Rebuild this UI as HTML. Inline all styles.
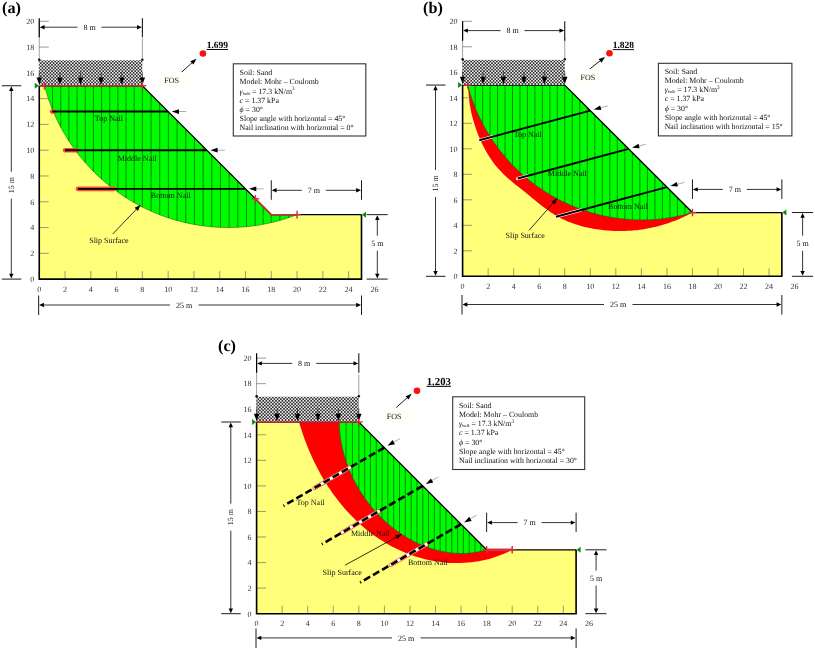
<!DOCTYPE html>
<html lang="en"><head><meta charset="utf-8"><title>Slope stability with soil nails</title><style>html,body{margin:0;padding:0;background:#fff}body{width:815px;height:650px;overflow:hidden}svg{display:block}</style></head><body>
<svg width="815" height="650" viewBox="0 0 815 650" text-rendering="geometricPrecision" font-family='"Liberation Serif", serif'><defs><pattern id="hatch" width="3.2" height="3.2" patternUnits="userSpaceOnUse"><rect width="3.2" height="3.2" fill="#f2f2f2"/><rect x="0" y="0" width="1.6" height="1.6" fill="#2a2a2a"/><rect x="1.6" y="1.6" width="1.6" height="1.6" fill="#2a2a2a"/></pattern></defs><rect width="815" height="650" fill="#fff"/><polygon points="39.25,279.1 39.25,85.75 142.37,85.75 271.27,214.65 361.5,214.65 361.5,279.1" fill="#ffff7a"/>
<polygon points="44.41,85.75 48.62,99.61 52.83,110.66 57.04,120.03 61.25,128.24 65.46,135.59 69.67,142.26 73.88,148.37 78.09,154.01 82.3,159.24 86.51,164.12 90.72,168.68 94.93,172.95 99.15,176.97 103.36,180.75 107.57,184.32 111.78,187.68 115.99,190.85 120.2,193.84 124.41,196.67 128.62,199.34 132.83,201.86 137.04,204.23 141.25,206.46 145.46,208.57 149.67,210.54 153.89,212.39 158.1,214.12 162.31,215.74 166.52,217.24 170.73,218.63 174.94,219.91 179.15,221.09 183.36,222.16 187.57,223.14 191.78,224.01 195.99,224.78 200.2,225.46 204.41,226.04 208.62,226.52 212.84,226.91 217.05,227.21 221.26,227.41 225.47,227.52 229.68,227.53 233.89,227.46 238.1,227.28 242.31,227.02 246.52,226.66 250.73,226.21 254.94,225.66 259.15,225.01 263.36,224.27 267.57,223.43 271.79,222.49 276,221.44 280.21,220.3 284.42,219.05 288.63,217.69 292.84,216.23 297.05,214.65 271.27,214.65 142.37,85.75" fill="#00fc00" stroke="#0a5a0a" stroke-width="0.5"/>
<line x1="52.57" y1="85.75" x2="52.57" y2="109.98" stroke="#064a06" stroke-width="0.65" />
<line x1="60.73" y1="85.75" x2="60.73" y2="127.24" stroke="#064a06" stroke-width="0.65" />
<line x1="68.9" y1="85.75" x2="68.9" y2="141.04" stroke="#064a06" stroke-width="0.65" />
<line x1="77.06" y1="85.75" x2="77.06" y2="152.63" stroke="#064a06" stroke-width="0.65" />
<line x1="85.22" y1="85.75" x2="85.22" y2="162.62" stroke="#064a06" stroke-width="0.65" />
<line x1="93.39" y1="85.75" x2="93.39" y2="171.38" stroke="#064a06" stroke-width="0.65" />
<line x1="101.55" y1="85.75" x2="101.55" y2="179.13" stroke="#064a06" stroke-width="0.65" />
<line x1="109.72" y1="85.75" x2="109.72" y2="186.03" stroke="#064a06" stroke-width="0.65" />
<line x1="117.88" y1="85.75" x2="117.88" y2="192.19" stroke="#064a06" stroke-width="0.65" />
<line x1="126.04" y1="85.75" x2="126.04" y2="197.71" stroke="#064a06" stroke-width="0.65" />
<line x1="134.21" y1="85.75" x2="134.21" y2="202.63" stroke="#064a06" stroke-width="0.65" />
<line x1="142.37" y1="85.75" x2="142.37" y2="207.02" stroke="#064a06" stroke-width="0.65" />
<line x1="151.05" y1="94.43" x2="151.05" y2="211.14" stroke="#064a06" stroke-width="0.65" />
<line x1="159.72" y1="103.1" x2="159.72" y2="214.74" stroke="#064a06" stroke-width="0.65" />
<line x1="168.4" y1="111.78" x2="168.4" y2="217.86" stroke="#064a06" stroke-width="0.65" />
<line x1="177.07" y1="120.45" x2="177.07" y2="220.51" stroke="#064a06" stroke-width="0.65" />
<line x1="185.75" y1="129.13" x2="185.75" y2="222.72" stroke="#064a06" stroke-width="0.65" />
<line x1="194.43" y1="137.81" x2="194.43" y2="224.5" stroke="#064a06" stroke-width="0.65" />
<line x1="203.1" y1="146.48" x2="203.1" y2="225.86" stroke="#064a06" stroke-width="0.65" />
<line x1="211.78" y1="155.16" x2="211.78" y2="226.82" stroke="#064a06" stroke-width="0.65" />
<line x1="220.45" y1="163.83" x2="220.45" y2="227.37" stroke="#064a06" stroke-width="0.65" />
<line x1="229.13" y1="172.51" x2="229.13" y2="227.53" stroke="#064a06" stroke-width="0.65" />
<line x1="237.81" y1="181.19" x2="237.81" y2="227.3" stroke="#064a06" stroke-width="0.65" />
<line x1="246.48" y1="189.86" x2="246.48" y2="226.66" stroke="#064a06" stroke-width="0.65" />
<line x1="255.16" y1="198.54" x2="255.16" y2="225.62" stroke="#064a06" stroke-width="0.65" />
<line x1="263.21" y1="206.59" x2="263.21" y2="224.29" stroke="#064a06" stroke-width="0.65" />
<line x1="271.27" y1="214.65" x2="271.27" y2="222.6" stroke="#064a06" stroke-width="0.65" />
<line x1="279.86" y1="214.65" x2="279.86" y2="220.39" stroke="#064a06" stroke-width="0.65" />
<line x1="288.46" y1="214.65" x2="288.46" y2="217.75" stroke="#064a06" stroke-width="0.65" />
<line x1="39.25" y1="253.32" x2="48.75" y2="253.32" stroke="#707070" stroke-width="0.7" />
<line x1="39.25" y1="227.54" x2="48.75" y2="227.54" stroke="#707070" stroke-width="0.7" />
<line x1="39.25" y1="201.76" x2="48.75" y2="201.76" stroke="#707070" stroke-width="0.7" />
<line x1="39.25" y1="175.98" x2="48.75" y2="175.98" stroke="#707070" stroke-width="0.7" />
<line x1="39.25" y1="150.2" x2="48.75" y2="150.2" stroke="#707070" stroke-width="0.7" />
<line x1="39.25" y1="124.42" x2="48.75" y2="124.42" stroke="#707070" stroke-width="0.7" />
<line x1="39.25" y1="98.64" x2="48.75" y2="98.64" stroke="#707070" stroke-width="0.7" />
<line x1="39.25" y1="72.86" x2="48.75" y2="72.86" stroke="#707070" stroke-width="0.7" />
<line x1="39.25" y1="47.08" x2="48.75" y2="47.08" stroke="#707070" stroke-width="0.7" />
<line x1="39.25" y1="21.3" x2="48.75" y2="21.3" stroke="#707070" stroke-width="0.7" />
<line x1="39.25" y1="279.1" x2="39.25" y2="271.1" stroke="#707070" stroke-width="0.7" />
<line x1="65.03" y1="279.1" x2="65.03" y2="271.1" stroke="#707070" stroke-width="0.7" />
<line x1="90.81" y1="279.1" x2="90.81" y2="271.1" stroke="#707070" stroke-width="0.7" />
<line x1="116.59" y1="279.1" x2="116.59" y2="271.1" stroke="#707070" stroke-width="0.7" />
<line x1="142.37" y1="279.1" x2="142.37" y2="271.1" stroke="#707070" stroke-width="0.7" />
<line x1="168.15" y1="279.1" x2="168.15" y2="271.1" stroke="#707070" stroke-width="0.7" />
<line x1="193.93" y1="279.1" x2="193.93" y2="271.1" stroke="#707070" stroke-width="0.7" />
<line x1="219.71" y1="279.1" x2="219.71" y2="271.1" stroke="#707070" stroke-width="0.7" />
<line x1="245.49" y1="279.1" x2="245.49" y2="271.1" stroke="#707070" stroke-width="0.7" />
<line x1="271.27" y1="279.1" x2="271.27" y2="271.1" stroke="#707070" stroke-width="0.7" />
<line x1="297.05" y1="279.1" x2="297.05" y2="271.1" stroke="#707070" stroke-width="0.7" />
<line x1="322.83" y1="279.1" x2="322.83" y2="271.1" stroke="#707070" stroke-width="0.7" />
<line x1="348.61" y1="279.1" x2="348.61" y2="271.1" stroke="#707070" stroke-width="0.7" />
<line x1="39.25" y1="85.75" x2="39.25" y2="21.3" stroke="#444" stroke-width="0.5" />
<polyline points="39.25,85.75 142.37,85.75 271.27,214.65 361.5,214.65" fill="none" stroke="#000" stroke-width="1.25" stroke-linejoin="miter"/>
<polyline points="361.5,214.65 361.5,279.1 39.25,279.1 39.25,85.75" fill="none" stroke="#000" stroke-width="1.6" stroke-linejoin="miter"/>
<rect x="39.25" y="60.27" width="103.12" height="25.48" fill="url(#hatch)"/>
<circle cx="39.25" cy="59.67" r="1.2" fill="#000"/>
<circle cx="142.37" cy="59.67" r="1.2" fill="#000"/>
<line x1="142.37" y1="59.97" x2="142.37" y2="37.97" stroke="#444" stroke-width="0.5" />
<line x1="39.25" y1="72.25" x2="39.25" y2="80.75" stroke="#222" stroke-width="0.7" />
<polygon points="39.25,84.75 36.55,77.55 41.95,77.55" fill="#000"/>
<line x1="59.87" y1="72.25" x2="59.87" y2="80.75" stroke="#222" stroke-width="0.7" />
<polygon points="59.87,84.75 57.17,77.55 62.57,77.55" fill="#000"/>
<line x1="80.5" y1="72.25" x2="80.5" y2="80.75" stroke="#222" stroke-width="0.7" />
<polygon points="80.5,84.75 77.8,77.55 83.2,77.55" fill="#000"/>
<line x1="101.12" y1="72.25" x2="101.12" y2="80.75" stroke="#222" stroke-width="0.7" />
<polygon points="101.12,84.75 98.42,77.55 103.82,77.55" fill="#000"/>
<line x1="121.75" y1="72.25" x2="121.75" y2="80.75" stroke="#222" stroke-width="0.7" />
<polygon points="121.75,84.75 119.05,77.55 124.45,77.55" fill="#000"/>
<line x1="142.37" y1="72.25" x2="142.37" y2="80.75" stroke="#222" stroke-width="0.7" />
<polygon points="142.37,84.75 139.67,77.55 145.07,77.55" fill="#000"/>
<polyline points="44.41,85.75 142.37,85.75" fill="none" stroke="#cc2c44" stroke-width="1.5"/>
<circle cx="93.39" cy="85.75" r="0.9" fill="#cc2c44"/>
<polyline points="255.42,198.8 271.27,214.65 297.05,214.65" fill="none" stroke="#cc2c44" stroke-width="1.5"/>
<circle cx="263.34" cy="206.72" r="0.9" fill="#cc2c44"/>
<circle cx="284.16" cy="214.65" r="0.9" fill="#cc2c44"/>
<line x1="40.61" y1="85.75" x2="48.21" y2="85.75" stroke="#cc2c44" stroke-width="1.4" />
<line x1="44.41" y1="81.95" x2="44.41" y2="89.55" stroke="#cc2c44" stroke-width="1.4" />
<line x1="138.57" y1="85.75" x2="146.17" y2="85.75" stroke="#cc2c44" stroke-width="1.4" />
<line x1="142.37" y1="81.95" x2="142.37" y2="89.55" stroke="#cc2c44" stroke-width="1.4" />
<line x1="251.62" y1="198.8" x2="259.22" y2="198.8" stroke="#cc2c44" stroke-width="1.4" />
<line x1="255.42" y1="195" x2="255.42" y2="202.6" stroke="#cc2c44" stroke-width="1.4" />
<line x1="293.25" y1="214.65" x2="300.85" y2="214.65" stroke="#cc2c44" stroke-width="1.4" />
<line x1="297.05" y1="210.85" x2="297.05" y2="218.45" stroke="#cc2c44" stroke-width="1.4" />
<polygon points="38.75,85.75 34.75,82.75 34.75,88.75" fill="#0a8a0a"/>
<polygon points="362,214.65 366,211.65 366,217.65" fill="#0a8a0a"/>
<line x1="54.07" y1="111.53" x2="52.14" y2="111.53" stroke="#ff4a38" stroke-width="4.6" stroke-linecap="round"/>
<line x1="168.15" y1="111.53" x2="52.14" y2="111.53" stroke="#000" stroke-width="1.9" />
<line x1="176.75" y1="111.53" x2="186.25" y2="111.53" stroke="#777" stroke-width="0.6" />
<polygon points="171.75,111.53 178.95,109.13 178.95,113.93" fill="#000"/>
<line x1="76.63" y1="150.2" x2="65.03" y2="150.2" stroke="#ff4a38" stroke-width="4.6" stroke-linecap="round"/>
<line x1="206.82" y1="150.2" x2="65.03" y2="150.2" stroke="#000" stroke-width="1.9" />
<line x1="215.42" y1="150.2" x2="224.92" y2="150.2" stroke="#777" stroke-width="0.6" />
<polygon points="210.42,150.2 217.62,147.8 217.62,152.6" fill="#000"/>
<line x1="114.01" y1="188.87" x2="77.92" y2="188.87" stroke="#ff4a38" stroke-width="4.6" stroke-linecap="round"/>
<line x1="245.49" y1="188.87" x2="77.92" y2="188.87" stroke="#000" stroke-width="1.9" />
<line x1="254.09" y1="188.87" x2="263.59" y2="188.87" stroke="#777" stroke-width="0.6" />
<polygon points="249.09,188.87 256.29,186.47 256.29,191.27" fill="#000"/>
<text x="108.86" y="120.55" font-size="8" text-anchor="middle" font-weight="normal" font-style="normal" fill="#111" >Top Nail</text>
<text x="137.21" y="160.51" font-size="8" text-anchor="middle" font-weight="normal" font-style="normal" fill="#111" >Middle Nail</text>
<text x="170.73" y="197.89" font-size="8" text-anchor="middle" font-weight="normal" font-style="normal" fill="#111" >Bottom Nail</text>
<text x="108.86" y="243.27" font-size="8" text-anchor="middle" font-weight="normal" font-style="normal" fill="#111" >Slip Surface</text>
<line x1="112.72" y1="233.99" x2="140.44" y2="204.98" stroke="#000" stroke-width="0.8" />
<polygon points="140.44,204.98 137.95,210.91 134.63,207.73" fill="#000"/>
<text x="34.25" y="281.9" font-size="8" text-anchor="end" font-weight="normal" font-style="normal" fill="#333" >0</text>
<text x="34.25" y="256.12" font-size="8" text-anchor="end" font-weight="normal" font-style="normal" fill="#333" >2</text>
<text x="34.25" y="230.34" font-size="8" text-anchor="end" font-weight="normal" font-style="normal" fill="#333" >4</text>
<text x="34.25" y="204.56" font-size="8" text-anchor="end" font-weight="normal" font-style="normal" fill="#333" >6</text>
<text x="34.25" y="178.78" font-size="8" text-anchor="end" font-weight="normal" font-style="normal" fill="#333" >8</text>
<text x="34.25" y="153" font-size="8" text-anchor="end" font-weight="normal" font-style="normal" fill="#333" >10</text>
<text x="34.25" y="127.22" font-size="8" text-anchor="end" font-weight="normal" font-style="normal" fill="#333" >12</text>
<text x="34.25" y="101.44" font-size="8" text-anchor="end" font-weight="normal" font-style="normal" fill="#333" >14</text>
<text x="34.25" y="75.66" font-size="8" text-anchor="end" font-weight="normal" font-style="normal" fill="#333" >16</text>
<text x="34.25" y="49.88" font-size="8" text-anchor="end" font-weight="normal" font-style="normal" fill="#333" >18</text>
<text x="34.25" y="24.1" font-size="8" text-anchor="end" font-weight="normal" font-style="normal" fill="#333" >20</text>
<text x="39.25" y="291.7" font-size="8" text-anchor="middle" font-weight="normal" font-style="normal" fill="#333" >0</text>
<text x="65.03" y="291.7" font-size="8" text-anchor="middle" font-weight="normal" font-style="normal" fill="#333" >2</text>
<text x="90.81" y="291.7" font-size="8" text-anchor="middle" font-weight="normal" font-style="normal" fill="#333" >4</text>
<text x="116.59" y="291.7" font-size="8" text-anchor="middle" font-weight="normal" font-style="normal" fill="#333" >6</text>
<text x="142.37" y="291.7" font-size="8" text-anchor="middle" font-weight="normal" font-style="normal" fill="#333" >8</text>
<text x="168.15" y="291.7" font-size="8" text-anchor="middle" font-weight="normal" font-style="normal" fill="#333" >10</text>
<text x="193.93" y="291.7" font-size="8" text-anchor="middle" font-weight="normal" font-style="normal" fill="#333" >12</text>
<text x="219.71" y="291.7" font-size="8" text-anchor="middle" font-weight="normal" font-style="normal" fill="#333" >14</text>
<text x="245.49" y="291.7" font-size="8" text-anchor="middle" font-weight="normal" font-style="normal" fill="#333" >16</text>
<text x="271.27" y="291.7" font-size="8" text-anchor="middle" font-weight="normal" font-style="normal" fill="#333" >18</text>
<text x="297.05" y="291.7" font-size="8" text-anchor="middle" font-weight="normal" font-style="normal" fill="#333" >20</text>
<text x="322.83" y="291.7" font-size="8" text-anchor="middle" font-weight="normal" font-style="normal" fill="#333" >22</text>
<text x="348.61" y="291.7" font-size="8" text-anchor="middle" font-weight="normal" font-style="normal" fill="#333" >24</text>
<text x="374.39" y="291.7" font-size="8" text-anchor="middle" font-weight="normal" font-style="normal" fill="#333" >26</text>
<line x1="39.25" y1="18.2" x2="39.25" y2="37.2" stroke="#000" stroke-width="1.2" />
<line x1="142.37" y1="18.2" x2="142.37" y2="37.2" stroke="#000" stroke-width="1.0" />
<line x1="43.25" y1="27.2" x2="77.5" y2="27.2" stroke="#000" stroke-width="0.8" />
<line x1="138.37" y1="27.2" x2="101.5" y2="27.2" stroke="#000" stroke-width="0.8" />
<polygon points="39.75,27.2 44.55,25 44.55,29.4" fill="#000"/>
<polygon points="141.87,27.2 137.07,29.4 137.07,25" fill="#000"/>
<text x="89.5" y="29.8" font-size="8" text-anchor="middle" font-weight="normal" font-style="normal" fill="#111" >8 m</text>
<line x1="271.27" y1="180.3" x2="271.27" y2="199.8" stroke="#000" stroke-width="0.9" />
<line x1="361.5" y1="180.3" x2="361.5" y2="199.8" stroke="#000" stroke-width="0.9" />
<line x1="275.27" y1="190.3" x2="301.9" y2="190.3" stroke="#000" stroke-width="0.8" />
<line x1="357.5" y1="190.3" x2="325.9" y2="190.3" stroke="#000" stroke-width="0.8" />
<polygon points="271.77,190.3 276.57,188.1 276.57,192.5" fill="#000"/>
<polygon points="361,190.3 356.2,192.5 356.2,188.1" fill="#000"/>
<text x="313.9" y="192.9" font-size="8" text-anchor="middle" font-weight="normal" font-style="normal" fill="#111" >7 m</text>
<line x1="38.65" y1="295.5" x2="38.65" y2="315" stroke="#000" stroke-width="0.9" />
<line x1="361.5" y1="295.5" x2="361.5" y2="315" stroke="#000" stroke-width="0.9" />
<line x1="43.25" y1="305" x2="170" y2="305" stroke="#000" stroke-width="0.8" />
<line x1="357.5" y1="305" x2="198.5" y2="305" stroke="#000" stroke-width="0.8" />
<polygon points="39.15,305 43.95,302.8 43.95,307.2" fill="#000"/>
<polygon points="361,305 356.2,307.2 356.2,302.8" fill="#000"/>
<text x="184" y="307.6" font-size="8" text-anchor="middle" font-weight="normal" font-style="normal" fill="#111" >25 m</text>
<line x1="1.8" y1="85.75" x2="21.3" y2="85.75" stroke="#000" stroke-width="0.9" />
<line x1="1.8" y1="279.1" x2="21.3" y2="279.1" stroke="#000" stroke-width="0.9" />
<line x1="11.3" y1="89.75" x2="11.3" y2="171.7" stroke="#000" stroke-width="0.8" />
<line x1="11.3" y1="275.1" x2="11.3" y2="198.7" stroke="#000" stroke-width="0.8" />
<polygon points="11.3,86.25 13.5,91.05 9.1,91.05" fill="#000"/>
<polygon points="11.3,278.6 9.1,273.8 13.5,273.8" fill="#000"/>
<text x="0" y="0" font-size="8" text-anchor="middle" font-weight="normal" font-style="normal" fill="#111" transform="translate(13.9,185.2) rotate(-90)">15 m</text>
<line x1="366.6" y1="214.65" x2="387.7" y2="214.65" stroke="#000" stroke-width="0.9" />
<line x1="366.6" y1="279.1" x2="387.7" y2="279.1" stroke="#000" stroke-width="0.9" />
<line x1="377.3" y1="218.65" x2="377.3" y2="235.7" stroke="#000" stroke-width="0.8" />
<line x1="377.3" y1="275.1" x2="377.3" y2="250.7" stroke="#000" stroke-width="0.8" />
<polygon points="377.3,215.15 379.5,219.95 375.1,219.95" fill="#000"/>
<polygon points="377.3,278.6 375.1,273.8 379.5,273.8" fill="#000"/>
<text x="377.3" y="246.4" font-size="8" text-anchor="middle" font-weight="normal" font-style="normal" fill="#111" >5 m</text>
<circle cx="202.95" cy="53.53" r="3.3" fill="#ff1010"/>
<line x1="181.25" y1="72.53" x2="193.49" y2="61.41" stroke="#000" stroke-width="0.9" />
<polygon points="196.45,58.73 193.41,64.6 190.32,61.19" fill="#000"/>
<rect x="157.65" y="72.12" width="28" height="16" fill="#fffff7"/>
<text x="171.65" y="83.33" font-size="8" text-anchor="middle" font-weight="normal" font-style="normal" fill="#111" >FOS</text>
<text x="206.65" y="48.03" font-size="9.5" text-anchor="start" font-weight="bold" font-style="normal" fill="#000" text-decoration="underline">1.699</text>
<rect x="233.3" y="63.8" width="132.5" height="72.2" fill="#fff" stroke="#333" stroke-width="1.1"/>
<text x="239.6" y="75.1" font-size="7.85" text-anchor="start" font-weight="normal" font-style="normal" fill="#111" >Soil: Sand</text>
<text x="239.6" y="84.33" font-size="7.85" text-anchor="start" font-weight="normal" font-style="normal" fill="#111" >Model: Mohr – Coulomb</text>
<text x="239.6" y="93.56" font-size="7.85" fill="#111"><tspan font-style="italic">γ</tspan><tspan font-size="4.3" dy="1.2" font-style="italic">bulk</tspan><tspan dy="-1.2"> = 17.3 kN/m</tspan><tspan font-size="5.2" dy="-3.4">3</tspan></text>
<text x="239.6" y="102.79" font-size="7.85" fill="#111"><tspan font-style="italic">c</tspan> = 1.37 kPa</text>
<text x="239.6" y="112.02" font-size="7.85" fill="#111"><tspan font-style="italic">ϕ</tspan> = 30°</text>
<text x="239.6" y="121.25" font-size="7.85" text-anchor="start" font-weight="normal" font-style="normal" fill="#111" >Slope angle with horizontal = 45°</text>
<text x="239.6" y="130.48" font-size="7.85" text-anchor="start" font-weight="normal" font-style="normal" fill="#111" >Nail inclination with horizontal = 0°</text>
<text x="2" y="13" font-size="16.2" text-anchor="start" font-weight="bold" font-style="normal" fill="#000" >(a)</text>
<polygon points="462.6,276.3 462.6,85.05 564.76,85.05 692.46,212.55 781.85,212.55 781.85,276.3" fill="#ffff7a"/>
<polygon points="467.71,85.05 469.58,103.62 471.45,113.15 473.33,120.45 475.2,126.57 477.08,131.92 478.97,136.71 480.86,141.07 482.76,145.08 484.68,148.8 486.62,152.27 488.57,155.52 490.54,158.57 492.54,161.44 494.56,164.14 496.61,166.68 498.67,169.08 500.75,171.35 502.84,173.5 504.93,175.53 507.03,177.47 509.11,179.31 511.19,181.08 513.24,182.78 515.27,184.42 517.28,186.01 519.25,187.57 521.18,189.09 523.09,190.6 524.96,192.08 526.79,193.55 528.6,195.01 530.38,196.46 532.13,197.91 533.87,199.34 535.59,200.76 537.3,202.16 539,203.55 540.7,204.91 542.4,206.25 544.11,207.57 545.82,208.85 547.54,210.1 549.27,211.31 551.01,212.48 552.76,213.61 554.52,214.7 556.29,215.75 558.08,216.75 559.88,217.71 561.68,218.63 563.5,219.5 565.32,220.34 567.15,221.13 568.99,221.89 570.84,222.6 572.68,223.28 574.54,223.93 576.39,224.54 578.25,225.12 580.12,225.67 581.98,226.18 583.85,226.67 585.72,227.13 587.59,227.56 589.46,227.96 591.33,228.34 593.2,228.69 595.07,229.01 596.94,229.31 598.81,229.59 600.69,229.84 602.56,230.06 604.43,230.26 606.31,230.44 608.18,230.6 610.05,230.73 611.92,230.84 613.8,230.92 615.67,230.98 617.54,231.02 619.42,231.04 621.29,231.03 623.16,231 625.03,230.94 626.91,230.87 628.78,230.77 630.65,230.64 632.53,230.5 634.4,230.33 636.27,230.14 638.14,229.92 640.02,229.68 641.89,229.42 643.76,229.13 645.64,228.82 647.51,228.48 649.38,228.12 651.26,227.74 653.13,227.33 655,226.9 656.87,226.44 658.75,225.95 660.62,225.45 662.49,224.91 664.37,224.35 666.24,223.76 668.11,223.15 669.98,222.51 671.86,221.84 673.73,221.14 675.6,220.42 677.48,219.67 679.35,218.88 681.22,218.07 683.1,217.23 684.97,216.36 686.84,215.45 688.71,214.52 690.59,213.55 692.46,212.55 564.76,85.05" fill="#ff0000"/>
<polygon points="467.71,85.05 468.65,88.53 469.67,92 470.75,95.44 471.9,98.86 473.12,102.26 474.4,105.63 475.76,108.97 477.17,112.29 478.66,115.58 480.21,118.83 481.82,122.06 483.5,125.25 485.24,128.4 487.04,131.52 488.91,134.61 490.83,137.65 492.82,140.66 494.86,143.63 496.97,146.55 499.13,149.43 501.35,152.27 503.63,155.07 505.96,157.81 508.34,160.51 510.78,163.16 513.27,165.77 515.81,168.32 518.41,170.82 521.05,173.26 523.74,175.66 526.48,178 529.26,180.28 532.09,182.51 534.96,184.68 537.88,186.8 540.84,188.85 543.84,190.85 546.88,192.78 549.95,194.66 553.07,196.47 556.22,198.22 559.4,199.9 562.62,201.52 565.87,203.08 569.14,204.57 572.45,205.99 575.79,207.35 579.15,208.64 582.54,209.87 585.96,211.02 589.39,212.11 592.85,213.12 596.32,214.07 599.82,214.95 603.33,215.76 606.86,216.49 610.4,217.16 613.96,217.75 617.52,218.27 621.1,218.72 624.68,219.1 628.28,219.41 631.87,219.64 635.47,219.8 639.08,219.89 642.68,219.91 646.29,219.85 649.89,219.72 653.49,219.52 657.09,219.25 660.68,218.9 664.26,218.48 667.83,217.99 671.39,217.43 674.94,216.79 678.48,216.09 682,215.31 685.5,214.46 688.99,213.54 692.46,212.55 564.76,85.05" fill="#00fc00" stroke="#0a5a0a" stroke-width="0.5"/>
<line x1="475.17" y1="85.05" x2="475.17" y2="107.53" stroke="#064a06" stroke-width="0.65" />
<line x1="482.64" y1="85.05" x2="482.64" y2="123.61" stroke="#064a06" stroke-width="0.65" />
<line x1="490.1" y1="85.05" x2="490.1" y2="136.5" stroke="#064a06" stroke-width="0.65" />
<line x1="497.57" y1="85.05" x2="497.57" y2="147.35" stroke="#064a06" stroke-width="0.65" />
<line x1="505.04" y1="85.05" x2="505.04" y2="156.73" stroke="#064a06" stroke-width="0.65" />
<line x1="512.5" y1="85.05" x2="512.5" y2="164.96" stroke="#064a06" stroke-width="0.65" />
<line x1="519.97" y1="85.05" x2="519.97" y2="172.26" stroke="#064a06" stroke-width="0.65" />
<line x1="527.43" y1="85.05" x2="527.43" y2="178.78" stroke="#064a06" stroke-width="0.65" />
<line x1="534.9" y1="85.05" x2="534.9" y2="184.63" stroke="#064a06" stroke-width="0.65" />
<line x1="542.36" y1="85.05" x2="542.36" y2="189.87" stroke="#064a06" stroke-width="0.65" />
<line x1="549.83" y1="85.05" x2="549.83" y2="194.58" stroke="#064a06" stroke-width="0.65" />
<line x1="557.29" y1="85.05" x2="557.29" y2="198.79" stroke="#064a06" stroke-width="0.65" />
<line x1="564.76" y1="85.05" x2="564.76" y2="202.55" stroke="#064a06" stroke-width="0.65" />
<line x1="572.27" y1="92.55" x2="572.27" y2="205.92" stroke="#064a06" stroke-width="0.65" />
<line x1="579.78" y1="100.05" x2="579.78" y2="208.87" stroke="#064a06" stroke-width="0.65" />
<line x1="587.3" y1="107.55" x2="587.3" y2="211.44" stroke="#064a06" stroke-width="0.65" />
<line x1="594.81" y1="115.05" x2="594.81" y2="213.66" stroke="#064a06" stroke-width="0.65" />
<line x1="602.32" y1="122.55" x2="602.32" y2="215.52" stroke="#064a06" stroke-width="0.65" />
<line x1="609.83" y1="130.05" x2="609.83" y2="217.05" stroke="#064a06" stroke-width="0.65" />
<line x1="617.34" y1="137.55" x2="617.34" y2="218.25" stroke="#064a06" stroke-width="0.65" />
<line x1="624.85" y1="145.05" x2="624.85" y2="219.12" stroke="#064a06" stroke-width="0.65" />
<line x1="632.37" y1="152.55" x2="632.37" y2="219.66" stroke="#064a06" stroke-width="0.65" />
<line x1="639.88" y1="160.05" x2="639.88" y2="219.9" stroke="#064a06" stroke-width="0.65" />
<line x1="647.39" y1="167.55" x2="647.39" y2="219.81" stroke="#064a06" stroke-width="0.65" />
<line x1="654.9" y1="175.05" x2="654.9" y2="219.41" stroke="#064a06" stroke-width="0.65" />
<line x1="662.41" y1="182.55" x2="662.41" y2="218.7" stroke="#064a06" stroke-width="0.65" />
<line x1="669.92" y1="190.05" x2="669.92" y2="217.66" stroke="#064a06" stroke-width="0.65" />
<line x1="677.44" y1="197.55" x2="677.44" y2="216.29" stroke="#064a06" stroke-width="0.65" />
<line x1="684.95" y1="205.05" x2="684.95" y2="214.59" stroke="#064a06" stroke-width="0.65" />
<line x1="462.6" y1="250.8" x2="472.1" y2="250.8" stroke="#707070" stroke-width="0.7" />
<line x1="462.6" y1="225.3" x2="472.1" y2="225.3" stroke="#707070" stroke-width="0.7" />
<line x1="462.6" y1="199.8" x2="472.1" y2="199.8" stroke="#707070" stroke-width="0.7" />
<line x1="462.6" y1="174.3" x2="472.1" y2="174.3" stroke="#707070" stroke-width="0.7" />
<line x1="462.6" y1="148.8" x2="472.1" y2="148.8" stroke="#707070" stroke-width="0.7" />
<line x1="462.6" y1="123.3" x2="472.1" y2="123.3" stroke="#707070" stroke-width="0.7" />
<line x1="462.6" y1="97.8" x2="472.1" y2="97.8" stroke="#707070" stroke-width="0.7" />
<line x1="462.6" y1="72.3" x2="472.1" y2="72.3" stroke="#707070" stroke-width="0.7" />
<line x1="462.6" y1="46.8" x2="472.1" y2="46.8" stroke="#707070" stroke-width="0.7" />
<line x1="462.6" y1="21.3" x2="472.1" y2="21.3" stroke="#707070" stroke-width="0.7" />
<line x1="462.6" y1="276.3" x2="462.6" y2="268.3" stroke="#707070" stroke-width="0.7" />
<line x1="488.14" y1="276.3" x2="488.14" y2="268.3" stroke="#707070" stroke-width="0.7" />
<line x1="513.68" y1="276.3" x2="513.68" y2="268.3" stroke="#707070" stroke-width="0.7" />
<line x1="539.22" y1="276.3" x2="539.22" y2="268.3" stroke="#707070" stroke-width="0.7" />
<line x1="564.76" y1="276.3" x2="564.76" y2="268.3" stroke="#707070" stroke-width="0.7" />
<line x1="590.3" y1="276.3" x2="590.3" y2="268.3" stroke="#707070" stroke-width="0.7" />
<line x1="615.84" y1="276.3" x2="615.84" y2="268.3" stroke="#707070" stroke-width="0.7" />
<line x1="641.38" y1="276.3" x2="641.38" y2="268.3" stroke="#707070" stroke-width="0.7" />
<line x1="666.92" y1="276.3" x2="666.92" y2="268.3" stroke="#707070" stroke-width="0.7" />
<line x1="692.46" y1="276.3" x2="692.46" y2="268.3" stroke="#707070" stroke-width="0.7" />
<line x1="718" y1="276.3" x2="718" y2="268.3" stroke="#707070" stroke-width="0.7" />
<line x1="743.54" y1="276.3" x2="743.54" y2="268.3" stroke="#707070" stroke-width="0.7" />
<line x1="769.08" y1="276.3" x2="769.08" y2="268.3" stroke="#707070" stroke-width="0.7" />
<line x1="462.6" y1="85.05" x2="462.6" y2="21.3" stroke="#444" stroke-width="0.5" />
<polyline points="462.6,85.05 564.76,85.05 692.46,212.55 781.85,212.55" fill="none" stroke="#000" stroke-width="1.25" stroke-linejoin="miter"/>
<polyline points="781.85,212.55 781.85,276.3 462.6,276.3 462.6,85.05" fill="none" stroke="#000" stroke-width="1.6" stroke-linejoin="miter"/>
<rect x="462.6" y="59.85" width="102.16" height="25.2" fill="url(#hatch)"/>
<circle cx="462.6" cy="59.25" r="1.2" fill="#000"/>
<circle cx="564.76" cy="59.25" r="1.2" fill="#000"/>
<line x1="564.76" y1="59.55" x2="564.76" y2="37.55" stroke="#444" stroke-width="0.5" />
<line x1="462.6" y1="71.55" x2="462.6" y2="80.05" stroke="#222" stroke-width="0.7" />
<polygon points="462.6,84.05 459.9,76.85 465.3,76.85" fill="#000"/>
<line x1="483.03" y1="71.55" x2="483.03" y2="80.05" stroke="#222" stroke-width="0.7" />
<polygon points="483.03,84.05 480.33,76.85 485.73,76.85" fill="#000"/>
<line x1="503.46" y1="71.55" x2="503.46" y2="80.05" stroke="#222" stroke-width="0.7" />
<polygon points="503.46,84.05 500.76,76.85 506.16,76.85" fill="#000"/>
<line x1="523.9" y1="71.55" x2="523.9" y2="80.05" stroke="#222" stroke-width="0.7" />
<polygon points="523.9,84.05 521.2,76.85 526.6,76.85" fill="#000"/>
<line x1="544.33" y1="71.55" x2="544.33" y2="80.05" stroke="#222" stroke-width="0.7" />
<polygon points="544.33,84.05 541.63,76.85 547.03,76.85" fill="#000"/>
<line x1="564.76" y1="71.55" x2="564.76" y2="80.05" stroke="#222" stroke-width="0.7" />
<polygon points="564.76,84.05 562.06,76.85 567.46,76.85" fill="#000"/>
<line x1="463.91" y1="85.05" x2="471.51" y2="85.05" stroke="#cc2c44" stroke-width="1.4" />
<line x1="467.71" y1="81.25" x2="467.71" y2="88.85" stroke="#cc2c44" stroke-width="1.4" />
<line x1="688.66" y1="212.55" x2="696.26" y2="212.55" stroke="#cc2c44" stroke-width="1.4" />
<line x1="692.46" y1="208.75" x2="692.46" y2="216.35" stroke="#cc2c44" stroke-width="1.4" />
<polygon points="462.1,85.05 458.1,82.05 458.1,88.05" fill="#0a8a0a"/>
<polygon points="782.35,212.55 786.35,209.55 786.35,215.55" fill="#0a8a0a"/>
<line x1="492.24" y1="136.78" x2="479.29" y2="140.25" stroke="#ffffff" stroke-width="3.3" stroke-linecap="round"/>
<line x1="590.3" y1="110.55" x2="479.29" y2="140.25" stroke="#000" stroke-width="1.9" />
<line x1="598.61" y1="108.32" x2="607.78" y2="105.87" stroke="#777" stroke-width="0.6" />
<polygon points="593.78,109.62 600.11,105.44 601.35,110.07" fill="#000"/>
<line x1="527.46" y1="175.86" x2="517.6" y2="178.5" stroke="#ffffff" stroke-width="3.3" stroke-linecap="round"/>
<line x1="628.61" y1="148.8" x2="517.6" y2="178.5" stroke="#000" stroke-width="1.9" />
<line x1="636.92" y1="146.57" x2="646.09" y2="144.12" stroke="#777" stroke-width="0.6" />
<polygon points="632.09,147.87 638.42,143.69 639.66,148.32" fill="#000"/>
<line x1="580.58" y1="210.15" x2="555.91" y2="216.75" stroke="#ffffff" stroke-width="3.3" stroke-linecap="round"/>
<line x1="666.92" y1="187.05" x2="555.91" y2="216.75" stroke="#000" stroke-width="1.9" />
<line x1="675.23" y1="184.82" x2="684.4" y2="182.37" stroke="#777" stroke-width="0.6" />
<polygon points="670.4,186.12 676.73,181.94 677.97,186.57" fill="#000"/>
<text x="527.73" y="136.69" font-size="8" text-anchor="middle" font-weight="normal" font-style="normal" fill="#111" >Top Nail</text>
<text x="567.31" y="175.57" font-size="8" text-anchor="middle" font-weight="normal" font-style="normal" fill="#111" >Middle Nail</text>
<text x="627.97" y="209.11" font-size="8" text-anchor="middle" font-weight="normal" font-style="normal" fill="#111" >Bottom Nail</text>
<text x="525.17" y="237.67" font-size="8" text-anchor="middle" font-weight="normal" font-style="normal" fill="#111" >Slip Surface</text>
<line x1="529" y1="230.4" x2="557.1" y2="198.53" stroke="#000" stroke-width="0.8" />
<polygon points="557.1,198.53 554.86,204.55 551.41,201.51" fill="#000"/>
<text x="457.6" y="279.1" font-size="8" text-anchor="end" font-weight="normal" font-style="normal" fill="#333" >0</text>
<text x="457.6" y="253.6" font-size="8" text-anchor="end" font-weight="normal" font-style="normal" fill="#333" >2</text>
<text x="457.6" y="228.1" font-size="8" text-anchor="end" font-weight="normal" font-style="normal" fill="#333" >4</text>
<text x="457.6" y="202.6" font-size="8" text-anchor="end" font-weight="normal" font-style="normal" fill="#333" >6</text>
<text x="457.6" y="177.1" font-size="8" text-anchor="end" font-weight="normal" font-style="normal" fill="#333" >8</text>
<text x="457.6" y="151.6" font-size="8" text-anchor="end" font-weight="normal" font-style="normal" fill="#333" >10</text>
<text x="457.6" y="126.1" font-size="8" text-anchor="end" font-weight="normal" font-style="normal" fill="#333" >12</text>
<text x="457.6" y="100.6" font-size="8" text-anchor="end" font-weight="normal" font-style="normal" fill="#333" >14</text>
<text x="457.6" y="75.1" font-size="8" text-anchor="end" font-weight="normal" font-style="normal" fill="#333" >16</text>
<text x="457.6" y="49.6" font-size="8" text-anchor="end" font-weight="normal" font-style="normal" fill="#333" >18</text>
<text x="457.6" y="24.1" font-size="8" text-anchor="end" font-weight="normal" font-style="normal" fill="#333" >20</text>
<text x="462.6" y="288.9" font-size="8" text-anchor="middle" font-weight="normal" font-style="normal" fill="#333" >0</text>
<text x="488.14" y="288.9" font-size="8" text-anchor="middle" font-weight="normal" font-style="normal" fill="#333" >2</text>
<text x="513.68" y="288.9" font-size="8" text-anchor="middle" font-weight="normal" font-style="normal" fill="#333" >4</text>
<text x="539.22" y="288.9" font-size="8" text-anchor="middle" font-weight="normal" font-style="normal" fill="#333" >6</text>
<text x="564.76" y="288.9" font-size="8" text-anchor="middle" font-weight="normal" font-style="normal" fill="#333" >8</text>
<text x="590.3" y="288.9" font-size="8" text-anchor="middle" font-weight="normal" font-style="normal" fill="#333" >10</text>
<text x="615.84" y="288.9" font-size="8" text-anchor="middle" font-weight="normal" font-style="normal" fill="#333" >12</text>
<text x="641.38" y="288.9" font-size="8" text-anchor="middle" font-weight="normal" font-style="normal" fill="#333" >14</text>
<text x="666.92" y="288.9" font-size="8" text-anchor="middle" font-weight="normal" font-style="normal" fill="#333" >16</text>
<text x="692.46" y="288.9" font-size="8" text-anchor="middle" font-weight="normal" font-style="normal" fill="#333" >18</text>
<text x="718" y="288.9" font-size="8" text-anchor="middle" font-weight="normal" font-style="normal" fill="#333" >20</text>
<text x="743.54" y="288.9" font-size="8" text-anchor="middle" font-weight="normal" font-style="normal" fill="#333" >22</text>
<text x="769.08" y="288.9" font-size="8" text-anchor="middle" font-weight="normal" font-style="normal" fill="#333" >24</text>
<text x="794.62" y="288.9" font-size="8" text-anchor="middle" font-weight="normal" font-style="normal" fill="#333" >26</text>
<line x1="462.6" y1="21.2" x2="462.6" y2="40.8" stroke="#000" stroke-width="1.2" />
<line x1="564.76" y1="21.2" x2="564.76" y2="40.8" stroke="#000" stroke-width="1.0" />
<line x1="466.6" y1="30.6" x2="500.5" y2="30.6" stroke="#000" stroke-width="0.8" />
<line x1="560.76" y1="30.6" x2="524.5" y2="30.6" stroke="#000" stroke-width="0.8" />
<polygon points="463.1,30.6 467.9,28.4 467.9,32.8" fill="#000"/>
<polygon points="564.26,30.6 559.46,32.8 559.46,28.4" fill="#000"/>
<text x="512.5" y="33.2" font-size="8" text-anchor="middle" font-weight="normal" font-style="normal" fill="#111" >8 m</text>
<line x1="692.46" y1="179.4" x2="692.46" y2="198.9" stroke="#000" stroke-width="0.9" />
<line x1="781.85" y1="179.4" x2="781.85" y2="198.9" stroke="#000" stroke-width="0.9" />
<line x1="696.46" y1="189.4" x2="722.8" y2="189.4" stroke="#000" stroke-width="0.8" />
<line x1="777.85" y1="189.4" x2="746.8" y2="189.4" stroke="#000" stroke-width="0.8" />
<polygon points="692.96,189.4 697.76,187.2 697.76,191.6" fill="#000"/>
<polygon points="781.35,189.4 776.55,191.6 776.55,187.2" fill="#000"/>
<text x="734.8" y="192" font-size="8" text-anchor="middle" font-weight="normal" font-style="normal" fill="#111" >7 m</text>
<line x1="462" y1="295" x2="462" y2="314.5" stroke="#000" stroke-width="0.9" />
<line x1="781.85" y1="295" x2="781.85" y2="314.5" stroke="#000" stroke-width="0.9" />
<line x1="466.6" y1="304.5" x2="604" y2="304.5" stroke="#000" stroke-width="0.8" />
<line x1="777.85" y1="304.5" x2="632.5" y2="304.5" stroke="#000" stroke-width="0.8" />
<polygon points="462.5,304.5 467.3,302.3 467.3,306.7" fill="#000"/>
<polygon points="781.35,304.5 776.55,306.7 776.55,302.3" fill="#000"/>
<text x="618" y="307.1" font-size="8" text-anchor="middle" font-weight="normal" font-style="normal" fill="#111" >25 m</text>
<line x1="426" y1="85.05" x2="445.5" y2="85.05" stroke="#000" stroke-width="0.9" />
<line x1="426" y1="276.3" x2="445.5" y2="276.3" stroke="#000" stroke-width="0.9" />
<line x1="435.5" y1="89.05" x2="435.5" y2="170" stroke="#000" stroke-width="0.8" />
<line x1="435.5" y1="272.3" x2="435.5" y2="197" stroke="#000" stroke-width="0.8" />
<polygon points="435.5,85.55 437.7,90.35 433.3,90.35" fill="#000"/>
<polygon points="435.5,275.8 433.3,271 437.7,271" fill="#000"/>
<text x="0" y="0" font-size="8" text-anchor="middle" font-weight="normal" font-style="normal" fill="#111" transform="translate(438.1,183.5) rotate(-90)">15 m</text>
<line x1="791.9" y1="212.55" x2="813" y2="212.55" stroke="#000" stroke-width="0.9" />
<line x1="791.9" y1="276.3" x2="813" y2="276.3" stroke="#000" stroke-width="0.9" />
<line x1="802.6" y1="216.55" x2="802.6" y2="235.7" stroke="#000" stroke-width="0.8" />
<line x1="802.6" y1="272.3" x2="802.6" y2="250.7" stroke="#000" stroke-width="0.8" />
<polygon points="802.6,213.05 804.8,217.85 800.4,217.85" fill="#000"/>
<polygon points="802.6,275.8 800.4,271 804.8,271" fill="#000"/>
<text x="802.6" y="246.4" font-size="8" text-anchor="middle" font-weight="normal" font-style="normal" fill="#111" >5 m</text>
<circle cx="609.46" cy="53.18" r="3.3" fill="#ff1010"/>
<line x1="589.16" y1="69.48" x2="601.82" y2="59.46" stroke="#000" stroke-width="0.9" />
<polygon points="604.96,56.98 601.52,62.63 598.67,59.02" fill="#000"/>
<rect x="573.96" y="68.98" width="28" height="16" fill="#fffff7"/>
<text x="587.96" y="80.18" font-size="8" text-anchor="middle" font-weight="normal" font-style="normal" fill="#111" >FOS</text>
<text x="612.66" y="48.18" font-size="9.5" text-anchor="start" font-weight="bold" font-style="normal" fill="#000" text-decoration="underline">1.828</text>
<rect x="658.4" y="63.3" width="133.5" height="72.6" fill="#fff" stroke="#333" stroke-width="1.1"/>
<text x="664.7" y="73.6" font-size="7.85" text-anchor="start" font-weight="normal" font-style="normal" fill="#111" >Soil: Sand</text>
<text x="664.7" y="82.83" font-size="7.85" text-anchor="start" font-weight="normal" font-style="normal" fill="#111" >Model: Mohr – Coulomb</text>
<text x="664.7" y="92.06" font-size="7.85" fill="#111"><tspan font-style="italic">γ</tspan><tspan font-size="4.3" dy="1.2" font-style="italic">bulk</tspan><tspan dy="-1.2"> = 17.3 kN/m</tspan><tspan font-size="5.2" dy="-3.4">3</tspan></text>
<text x="664.7" y="101.29" font-size="7.85" fill="#111"><tspan font-style="italic">c</tspan> = 1.37 kPa</text>
<text x="664.7" y="110.52" font-size="7.85" fill="#111"><tspan font-style="italic">ϕ</tspan> = 30°</text>
<text x="664.7" y="119.75" font-size="7.85" text-anchor="start" font-weight="normal" font-style="normal" fill="#111" >Slope angle with horizontal = 45°</text>
<text x="664.7" y="128.98" font-size="7.85" text-anchor="start" font-weight="normal" font-style="normal" fill="#111" >Nail inclination with horizontal = 15°</text>
<text x="423" y="13" font-size="16.2" text-anchor="start" font-weight="bold" font-style="normal" fill="#000" >(b)</text>
<polygon points="256.6,613.7 256.6,422 358.84,422 486.64,549.8 576.1,549.8 576.1,613.7" fill="#ffff7a"/>
<polygon points="299.03,422 300.09,425.55 301.19,429.06 302.34,432.54 303.52,435.99 304.75,439.41 306.01,442.79 307.32,446.14 308.67,449.46 310.07,452.76 311.5,456.02 312.98,459.25 314.51,462.44 316.08,465.61 317.69,468.75 319.35,471.86 321.05,474.93 322.8,477.98 324.6,480.99 326.45,483.97 328.34,486.92 330.28,489.83 332.27,492.7 334.31,495.55 336.4,498.35 338.54,501.12 340.73,503.85 342.97,506.53 345.26,509.18 347.6,511.78 349.99,514.35 352.44,516.86 354.93,519.33 357.48,521.75 360.07,524.12 362.72,526.44 365.42,528.7 368.16,530.91 370.96,533.06 373.81,535.16 376.7,537.19 379.64,539.16 382.63,541.07 385.66,542.91 388.74,544.68 391.86,546.39 395.02,548.02 398.23,549.57 401.47,551.06 404.75,552.46 408.07,553.79 411.42,555.03 414.81,556.19 418.22,557.27 421.67,558.26 425.14,559.16 428.63,559.98 432.15,560.7 435.68,561.33 439.24,561.86 442.8,562.3 446.38,562.65 449.97,562.89 453.56,563.04 457.15,563.08 460.74,563.03 464.33,562.87 467.91,562.61 471.48,562.25 475.04,561.78 478.58,561.21 482.1,560.54 485.59,559.76 489.06,558.88 492.49,557.89 495.89,556.8 499.24,555.6 502.56,554.3 505.82,552.9 509.04,551.4 512.2,549.8 486.64,549.8 358.84,422" fill="#ff0000"/>
<polygon points="339.29,422 339.35,424.8 339.48,427.6 339.67,430.4 339.93,433.18 340.25,435.96 340.63,438.73 341.07,441.49 341.57,444.23 342.13,446.96 342.75,449.68 343.42,452.38 344.15,455.06 344.94,457.73 345.77,460.38 346.66,463 347.61,465.61 348.6,468.2 349.64,470.76 350.74,473.3 351.88,475.82 353.07,478.32 354.3,480.79 355.58,483.23 356.91,485.65 358.29,488.04 359.71,490.41 361.17,492.75 362.68,495.06 364.23,497.34 365.82,499.59 367.46,501.81 369.14,504 370.86,506.16 372.62,508.28 374.42,510.38 376.26,512.43 378.15,514.46 380.07,516.44 382.03,518.39 384.04,520.3 386.08,522.18 388.16,524.01 390.28,525.8 392.43,527.55 394.62,529.26 396.85,530.92 399.12,532.53 401.42,534.1 403.76,535.62 406.13,537.09 408.54,538.51 410.97,539.87 413.44,541.18 415.95,542.43 418.48,543.63 421.04,544.76 423.63,545.84 426.24,546.85 428.88,547.8 431.54,548.68 434.23,549.49 436.94,550.23 439.66,550.9 442.41,551.5 445.17,552.03 447.94,552.47 450.72,552.84 453.51,553.13 456.31,553.34 459.11,553.46 461.91,553.5 464.71,553.45 467.5,553.31 470.29,553.09 473.06,552.77 475.82,552.37 478.56,551.87 481.28,551.27 483.98,550.58 486.64,549.8 358.84,422" fill="#00fc00" stroke="#0a5a0a" stroke-width="0.5"/>
<line x1="346.06" y1="422" x2="346.06" y2="461.22" stroke="#064a06" stroke-width="0.65" />
<line x1="352.45" y1="422" x2="352.45" y2="477.02" stroke="#064a06" stroke-width="0.65" />
<line x1="358.84" y1="422" x2="358.84" y2="488.96" stroke="#064a06" stroke-width="0.65" />
<line x1="364.65" y1="427.81" x2="364.65" y2="497.93" stroke="#064a06" stroke-width="0.65" />
<line x1="370.46" y1="433.62" x2="370.46" y2="505.66" stroke="#064a06" stroke-width="0.65" />
<line x1="376.27" y1="439.43" x2="376.27" y2="512.44" stroke="#064a06" stroke-width="0.65" />
<line x1="382.08" y1="445.24" x2="382.08" y2="518.43" stroke="#064a06" stroke-width="0.65" />
<line x1="387.89" y1="451.05" x2="387.89" y2="523.77" stroke="#064a06" stroke-width="0.65" />
<line x1="393.69" y1="456.85" x2="393.69" y2="528.53" stroke="#064a06" stroke-width="0.65" />
<line x1="399.5" y1="462.66" x2="399.5" y2="532.79" stroke="#064a06" stroke-width="0.65" />
<line x1="405.31" y1="468.47" x2="405.31" y2="536.58" stroke="#064a06" stroke-width="0.65" />
<line x1="411.12" y1="474.28" x2="411.12" y2="539.95" stroke="#064a06" stroke-width="0.65" />
<line x1="416.93" y1="480.09" x2="416.93" y2="542.9" stroke="#064a06" stroke-width="0.65" />
<line x1="422.74" y1="485.9" x2="422.74" y2="545.47" stroke="#064a06" stroke-width="0.65" />
<line x1="428.55" y1="491.71" x2="428.55" y2="547.68" stroke="#064a06" stroke-width="0.65" />
<line x1="434.36" y1="497.52" x2="434.36" y2="549.52" stroke="#064a06" stroke-width="0.65" />
<line x1="440.17" y1="503.33" x2="440.17" y2="551.01" stroke="#064a06" stroke-width="0.65" />
<line x1="445.98" y1="509.14" x2="445.98" y2="552.16" stroke="#064a06" stroke-width="0.65" />
<line x1="451.79" y1="514.95" x2="451.79" y2="552.95" stroke="#064a06" stroke-width="0.65" />
<line x1="457.59" y1="520.75" x2="457.59" y2="553.39" stroke="#064a06" stroke-width="0.65" />
<line x1="463.4" y1="526.56" x2="463.4" y2="553.47" stroke="#064a06" stroke-width="0.65" />
<line x1="469.21" y1="532.37" x2="469.21" y2="553.18" stroke="#064a06" stroke-width="0.65" />
<line x1="475.02" y1="538.18" x2="475.02" y2="552.48" stroke="#064a06" stroke-width="0.65" />
<line x1="480.83" y1="543.99" x2="480.83" y2="551.37" stroke="#064a06" stroke-width="0.65" />
<line x1="256.6" y1="588.14" x2="266.1" y2="588.14" stroke="#707070" stroke-width="0.7" />
<line x1="256.6" y1="562.58" x2="266.1" y2="562.58" stroke="#707070" stroke-width="0.7" />
<line x1="256.6" y1="537.02" x2="266.1" y2="537.02" stroke="#707070" stroke-width="0.7" />
<line x1="256.6" y1="511.46" x2="266.1" y2="511.46" stroke="#707070" stroke-width="0.7" />
<line x1="256.6" y1="485.9" x2="266.1" y2="485.9" stroke="#707070" stroke-width="0.7" />
<line x1="256.6" y1="460.34" x2="266.1" y2="460.34" stroke="#707070" stroke-width="0.7" />
<line x1="256.6" y1="434.78" x2="266.1" y2="434.78" stroke="#707070" stroke-width="0.7" />
<line x1="256.6" y1="409.22" x2="266.1" y2="409.22" stroke="#707070" stroke-width="0.7" />
<line x1="256.6" y1="383.66" x2="266.1" y2="383.66" stroke="#707070" stroke-width="0.7" />
<line x1="256.6" y1="358.1" x2="266.1" y2="358.1" stroke="#707070" stroke-width="0.7" />
<line x1="256.6" y1="613.7" x2="256.6" y2="605.7" stroke="#707070" stroke-width="0.7" />
<line x1="282.16" y1="613.7" x2="282.16" y2="605.7" stroke="#707070" stroke-width="0.7" />
<line x1="307.72" y1="613.7" x2="307.72" y2="605.7" stroke="#707070" stroke-width="0.7" />
<line x1="333.28" y1="613.7" x2="333.28" y2="605.7" stroke="#707070" stroke-width="0.7" />
<line x1="358.84" y1="613.7" x2="358.84" y2="605.7" stroke="#707070" stroke-width="0.7" />
<line x1="384.4" y1="613.7" x2="384.4" y2="605.7" stroke="#707070" stroke-width="0.7" />
<line x1="409.96" y1="613.7" x2="409.96" y2="605.7" stroke="#707070" stroke-width="0.7" />
<line x1="435.52" y1="613.7" x2="435.52" y2="605.7" stroke="#707070" stroke-width="0.7" />
<line x1="461.08" y1="613.7" x2="461.08" y2="605.7" stroke="#707070" stroke-width="0.7" />
<line x1="486.64" y1="613.7" x2="486.64" y2="605.7" stroke="#707070" stroke-width="0.7" />
<line x1="512.2" y1="613.7" x2="512.2" y2="605.7" stroke="#707070" stroke-width="0.7" />
<line x1="537.76" y1="613.7" x2="537.76" y2="605.7" stroke="#707070" stroke-width="0.7" />
<line x1="563.32" y1="613.7" x2="563.32" y2="605.7" stroke="#707070" stroke-width="0.7" />
<line x1="256.6" y1="422" x2="256.6" y2="358.1" stroke="#444" stroke-width="0.5" />
<polyline points="256.6,422 358.84,422 486.64,549.8 576.1,549.8" fill="none" stroke="#000" stroke-width="1.25" stroke-linejoin="miter"/>
<polyline points="576.1,549.8 576.1,613.7 256.6,613.7 256.6,422" fill="none" stroke="#000" stroke-width="1.6" stroke-linejoin="miter"/>
<rect x="256.6" y="396.74" width="102.24" height="25.26" fill="url(#hatch)"/>
<circle cx="256.6" cy="396.14" r="1.2" fill="#000"/>
<circle cx="358.84" cy="396.14" r="1.2" fill="#000"/>
<line x1="358.84" y1="396.44" x2="358.84" y2="374.44" stroke="#444" stroke-width="0.5" />
<line x1="256.6" y1="408.5" x2="256.6" y2="417" stroke="#222" stroke-width="0.7" />
<polygon points="256.6,421 253.9,413.8 259.3,413.8" fill="#000"/>
<line x1="277.05" y1="408.5" x2="277.05" y2="417" stroke="#222" stroke-width="0.7" />
<polygon points="277.05,421 274.35,413.8 279.75,413.8" fill="#000"/>
<line x1="297.5" y1="408.5" x2="297.5" y2="417" stroke="#222" stroke-width="0.7" />
<polygon points="297.5,421 294.8,413.8 300.2,413.8" fill="#000"/>
<line x1="317.94" y1="408.5" x2="317.94" y2="417" stroke="#222" stroke-width="0.7" />
<polygon points="317.94,421 315.24,413.8 320.64,413.8" fill="#000"/>
<line x1="338.39" y1="408.5" x2="338.39" y2="417" stroke="#222" stroke-width="0.7" />
<polygon points="338.39,421 335.69,413.8 341.09,413.8" fill="#000"/>
<line x1="358.84" y1="408.5" x2="358.84" y2="417" stroke="#222" stroke-width="0.7" />
<polygon points="358.84,421 356.14,413.8 361.54,413.8" fill="#000"/>
<polyline points="486.64,549.8 512.2,549.8" fill="none" stroke="#d84a55" stroke-width="2.6"/>
<polyline points="256.6,422 358.84,422" fill="none" stroke="#cc2c44" stroke-width="1.5"/>
<circle cx="307.72" cy="422" r="0.9" fill="#cc2c44"/>
<polyline points="486.64,549.8 512.2,549.8" fill="none" stroke="#cc2c44" stroke-width="1.5"/>
<circle cx="499.42" cy="549.8" r="0.9" fill="#cc2c44"/>
<line x1="355.04" y1="422" x2="362.64" y2="422" stroke="#cc2c44" stroke-width="1.4" />
<line x1="358.84" y1="418.2" x2="358.84" y2="425.8" stroke="#cc2c44" stroke-width="1.4" />
<line x1="482.84" y1="549.8" x2="490.44" y2="549.8" stroke="#cc2c44" stroke-width="1.4" />
<line x1="486.64" y1="546" x2="486.64" y2="553.6" stroke="#cc2c44" stroke-width="1.4" />
<line x1="508.4" y1="549.8" x2="516" y2="549.8" stroke="#cc2c44" stroke-width="1.4" />
<line x1="512.2" y1="546" x2="512.2" y2="553.6" stroke="#cc2c44" stroke-width="1.4" />
<polygon points="256.1,422 252.1,419 252.1,425" fill="#0a8a0a"/>
<polygon points="576.6,549.8 580.6,546.8 580.6,552.8" fill="#0a8a0a"/>
<line x1="350.09" y1="467.37" x2="314.67" y2="487.82" stroke="#ff5a4a" stroke-width="4.4" stroke-linecap="round"/>
<line x1="350.09" y1="467.37" x2="314.67" y2="487.82" stroke="#fff" stroke-width="2.8" stroke-linecap="round"/>
<line x1="384.4" y1="447.56" x2="283.46" y2="505.84" stroke="#000" stroke-width="2.6" stroke-dasharray="7.2 3.3"/>
<line x1="391.85" y1="443.26" x2="400.08" y2="438.51" stroke="#777" stroke-width="0.6" />
<polygon points="387.52,445.76 392.55,440.08 394.95,444.24" fill="#000"/>
<line x1="378.47" y1="511.46" x2="341.95" y2="532.55" stroke="#ff5a4a" stroke-width="4.4" stroke-linecap="round"/>
<line x1="378.47" y1="511.46" x2="341.95" y2="532.55" stroke="#fff" stroke-width="2.8" stroke-linecap="round"/>
<line x1="422.74" y1="485.9" x2="321.8" y2="544.18" stroke="#000" stroke-width="2.6" stroke-dasharray="7.2 3.3"/>
<line x1="430.19" y1="481.6" x2="438.42" y2="476.85" stroke="#777" stroke-width="0.6" />
<polygon points="425.86,484.1 430.89,478.42 433.29,482.58" fill="#000"/>
<line x1="426.77" y1="544.05" x2="390.8" y2="564.82" stroke="#ff5a4a" stroke-width="4.4" stroke-linecap="round"/>
<line x1="426.77" y1="544.05" x2="390.8" y2="564.82" stroke="#fff" stroke-width="2.8" stroke-linecap="round"/>
<line x1="461.08" y1="524.24" x2="360.14" y2="582.52" stroke="#000" stroke-width="2.6" stroke-dasharray="7.2 3.3"/>
<line x1="468.53" y1="519.94" x2="476.76" y2="515.19" stroke="#777" stroke-width="0.6" />
<polygon points="464.2,522.44 469.23,516.76 471.63,520.92" fill="#000"/>
<text x="310.53" y="505.45" font-size="8" text-anchor="middle" font-weight="normal" font-style="normal" fill="#111" >Top Nail</text>
<text x="370.34" y="536" font-size="8" text-anchor="middle" font-weight="normal" font-style="normal" fill="#111" >Middle Nail</text>
<text x="427.85" y="565.14" font-size="8" text-anchor="middle" font-weight="normal" font-style="normal" fill="#111" >Bottom Nail</text>
<text x="342.23" y="575.36" font-size="8" text-anchor="middle" font-weight="normal" font-style="normal" fill="#111" >Slip Surface</text>
<line x1="345.17" y1="565.14" x2="401.53" y2="534.34" stroke="#000" stroke-width="0.8" />
<polygon points="401.53,534.34 397.36,539.23 395.16,535.2" fill="#000"/>
<text x="251.6" y="616.5" font-size="8" text-anchor="end" font-weight="normal" font-style="normal" fill="#333" >0</text>
<text x="251.6" y="590.94" font-size="8" text-anchor="end" font-weight="normal" font-style="normal" fill="#333" >2</text>
<text x="251.6" y="565.38" font-size="8" text-anchor="end" font-weight="normal" font-style="normal" fill="#333" >4</text>
<text x="251.6" y="539.82" font-size="8" text-anchor="end" font-weight="normal" font-style="normal" fill="#333" >6</text>
<text x="251.6" y="514.26" font-size="8" text-anchor="end" font-weight="normal" font-style="normal" fill="#333" >8</text>
<text x="251.6" y="488.7" font-size="8" text-anchor="end" font-weight="normal" font-style="normal" fill="#333" >10</text>
<text x="251.6" y="463.14" font-size="8" text-anchor="end" font-weight="normal" font-style="normal" fill="#333" >12</text>
<text x="251.6" y="437.58" font-size="8" text-anchor="end" font-weight="normal" font-style="normal" fill="#333" >14</text>
<text x="251.6" y="412.02" font-size="8" text-anchor="end" font-weight="normal" font-style="normal" fill="#333" >16</text>
<text x="251.6" y="386.46" font-size="8" text-anchor="end" font-weight="normal" font-style="normal" fill="#333" >18</text>
<text x="251.6" y="360.9" font-size="8" text-anchor="end" font-weight="normal" font-style="normal" fill="#333" >20</text>
<text x="256.6" y="626.3" font-size="8" text-anchor="middle" font-weight="normal" font-style="normal" fill="#333" >0</text>
<text x="282.16" y="626.3" font-size="8" text-anchor="middle" font-weight="normal" font-style="normal" fill="#333" >2</text>
<text x="307.72" y="626.3" font-size="8" text-anchor="middle" font-weight="normal" font-style="normal" fill="#333" >4</text>
<text x="333.28" y="626.3" font-size="8" text-anchor="middle" font-weight="normal" font-style="normal" fill="#333" >6</text>
<text x="358.84" y="626.3" font-size="8" text-anchor="middle" font-weight="normal" font-style="normal" fill="#333" >8</text>
<text x="384.4" y="626.3" font-size="8" text-anchor="middle" font-weight="normal" font-style="normal" fill="#333" >10</text>
<text x="409.96" y="626.3" font-size="8" text-anchor="middle" font-weight="normal" font-style="normal" fill="#333" >12</text>
<text x="435.52" y="626.3" font-size="8" text-anchor="middle" font-weight="normal" font-style="normal" fill="#333" >14</text>
<text x="461.08" y="626.3" font-size="8" text-anchor="middle" font-weight="normal" font-style="normal" fill="#333" >16</text>
<text x="486.64" y="626.3" font-size="8" text-anchor="middle" font-weight="normal" font-style="normal" fill="#333" >18</text>
<text x="512.2" y="626.3" font-size="8" text-anchor="middle" font-weight="normal" font-style="normal" fill="#333" >20</text>
<text x="537.76" y="626.3" font-size="8" text-anchor="middle" font-weight="normal" font-style="normal" fill="#333" >22</text>
<text x="563.32" y="626.3" font-size="8" text-anchor="middle" font-weight="normal" font-style="normal" fill="#333" >24</text>
<text x="588.88" y="626.3" font-size="8" text-anchor="middle" font-weight="normal" font-style="normal" fill="#333" >26</text>
<line x1="256.6" y1="353.3" x2="256.6" y2="372.8" stroke="#000" stroke-width="1.2" />
<line x1="358.84" y1="353.3" x2="358.84" y2="372.8" stroke="#000" stroke-width="1.0" />
<line x1="260.6" y1="363.4" x2="292.2" y2="363.4" stroke="#000" stroke-width="0.8" />
<line x1="354.84" y1="363.4" x2="316.2" y2="363.4" stroke="#000" stroke-width="0.8" />
<polygon points="257.1,363.4 261.9,361.2 261.9,365.6" fill="#000"/>
<polygon points="358.34,363.4 353.54,365.6 353.54,361.2" fill="#000"/>
<text x="304.2" y="366" font-size="8" text-anchor="middle" font-weight="normal" font-style="normal" fill="#111" >8 m</text>
<line x1="486.64" y1="512.6" x2="486.64" y2="532.1" stroke="#000" stroke-width="0.9" />
<line x1="576.1" y1="512.6" x2="576.1" y2="532.1" stroke="#000" stroke-width="0.9" />
<line x1="490.64" y1="522.6" x2="517.6" y2="522.6" stroke="#000" stroke-width="0.8" />
<line x1="572.1" y1="522.6" x2="541.6" y2="522.6" stroke="#000" stroke-width="0.8" />
<polygon points="487.14,522.6 491.94,520.4 491.94,524.8" fill="#000"/>
<polygon points="575.6,522.6 570.8,524.8 570.8,520.4" fill="#000"/>
<text x="529.6" y="525.2" font-size="8" text-anchor="middle" font-weight="normal" font-style="normal" fill="#111" >7 m</text>
<line x1="256" y1="628.4" x2="256" y2="647.9" stroke="#000" stroke-width="0.9" />
<line x1="576.1" y1="628.4" x2="576.1" y2="647.9" stroke="#000" stroke-width="0.9" />
<line x1="260.6" y1="637.9" x2="392" y2="637.9" stroke="#000" stroke-width="0.8" />
<line x1="572.1" y1="637.9" x2="420.5" y2="637.9" stroke="#000" stroke-width="0.8" />
<polygon points="256.5,637.9 261.3,635.7 261.3,640.1" fill="#000"/>
<polygon points="575.6,637.9 570.8,640.1 570.8,635.7" fill="#000"/>
<text x="406" y="640.5" font-size="8" text-anchor="middle" font-weight="normal" font-style="normal" fill="#111" >25 m</text>
<line x1="221.3" y1="422" x2="240.8" y2="422" stroke="#000" stroke-width="0.9" />
<line x1="221.3" y1="613.7" x2="240.8" y2="613.7" stroke="#000" stroke-width="0.9" />
<line x1="230.8" y1="426" x2="230.8" y2="503.7" stroke="#000" stroke-width="0.8" />
<line x1="230.8" y1="609.7" x2="230.8" y2="530.7" stroke="#000" stroke-width="0.8" />
<polygon points="230.8,422.5 233,427.3 228.6,427.3" fill="#000"/>
<polygon points="230.8,613.2 228.6,608.4 233,608.4" fill="#000"/>
<text x="0" y="0" font-size="8" text-anchor="middle" font-weight="normal" font-style="normal" fill="#111" transform="translate(233.4,517.2) rotate(-90)">15 m</text>
<line x1="585.4" y1="549.8" x2="606.5" y2="549.8" stroke="#000" stroke-width="0.9" />
<line x1="585.4" y1="613.7" x2="606.5" y2="613.7" stroke="#000" stroke-width="0.9" />
<line x1="596.1" y1="553.8" x2="596.1" y2="570.6" stroke="#000" stroke-width="0.8" />
<line x1="596.1" y1="609.7" x2="596.1" y2="585.6" stroke="#000" stroke-width="0.8" />
<polygon points="596.1,550.3 598.3,555.1 593.9,555.1" fill="#000"/>
<polygon points="596.1,613.2 593.9,608.4 598.3,608.4" fill="#000"/>
<text x="596.1" y="581.3" font-size="8" text-anchor="middle" font-weight="normal" font-style="normal" fill="#111" >5 m</text>
<circle cx="416.99" cy="390.69" r="3.3" fill="#ff1010"/>
<line x1="395.89" y1="407.79" x2="408.7" y2="396.44" stroke="#000" stroke-width="0.9" />
<polygon points="411.69,393.79 408.57,399.62 405.52,396.18" fill="#000"/>
<rect x="380.19" y="407.79" width="28" height="16" fill="#fffff7"/>
<text x="394.19" y="418.99" font-size="8" text-anchor="middle" font-weight="normal" font-style="normal" fill="#111" >FOS</text>
<text x="426.69" y="384.79" font-size="10.75" text-anchor="start" font-weight="bold" font-style="normal" fill="#000" text-decoration="underline">1.203</text>
<rect x="452.7" y="396.8" width="132" height="72.7" fill="#fff" stroke="#333" stroke-width="1.1"/>
<text x="459" y="407.6" font-size="7.85" text-anchor="start" font-weight="normal" font-style="normal" fill="#111" >Soil: Sand</text>
<text x="459" y="416.83" font-size="7.85" text-anchor="start" font-weight="normal" font-style="normal" fill="#111" >Model: Mohr – Coulomb</text>
<text x="459" y="426.06" font-size="7.85" fill="#111"><tspan font-style="italic">γ</tspan><tspan font-size="4.3" dy="1.2" font-style="italic">bulk</tspan><tspan dy="-1.2"> = 17.3 kN/m</tspan><tspan font-size="5.2" dy="-3.4">3</tspan></text>
<text x="459" y="435.29" font-size="7.85" fill="#111"><tspan font-style="italic">c</tspan> = 1.37 kPa</text>
<text x="459" y="444.52" font-size="7.85" fill="#111"><tspan font-style="italic">ϕ</tspan> = 30°</text>
<text x="459" y="453.75" font-size="7.85" text-anchor="start" font-weight="normal" font-style="normal" fill="#111" >Slope angle with horizontal = 45°</text>
<text x="459" y="462.98" font-size="7.85" text-anchor="start" font-weight="normal" font-style="normal" fill="#111" >Nail inclination with horizontal = 30°</text>
<text x="218" y="350.5" font-size="16.2" text-anchor="start" font-weight="bold" font-style="normal" fill="#000" >(c)</text></svg>
</body></html>
